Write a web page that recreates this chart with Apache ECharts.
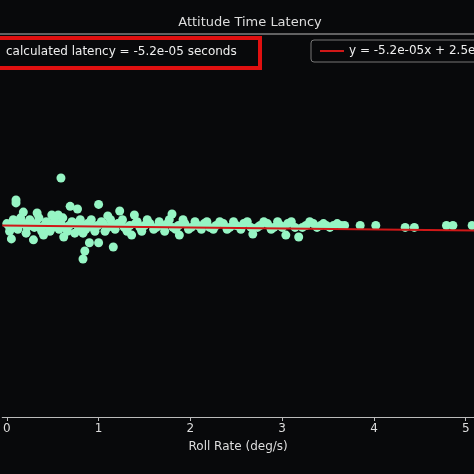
<!DOCTYPE html>
<html>
<head>
<meta charset="utf-8">
<script src="https://cdn.jsdelivr.net/npm/echarts@6/dist/echarts.min.js"></script>
<style>html,body{margin:0;padding:0;background:#08090b}#chart{width:474px;height:474px}</style>
</head>
<body>
<div id="chart"></div>
<script>
// scatter of latency residual vs roll rate, values in seconds
const outliers = [
  [0.59, 0.00248], [0.10, 0.00133], [0.10, 0.00118], [0.18, 0.0007], [0.33, 0.00065],
  [0.69, 0.001], [0.77, 0.00086], [1.0, 0.0011], [1.23, 0.00076], [1.39, 0.00055],
  [1.80, 0.0006], [0.49, 0.00055], [0.56, 0.00055], [0.85, -0.00133], [0.83, -0.00175],
  [1.16, -0.00112], [0.90, -0.0009], [1.0, -0.0009], [0.05, -0.0007], [0.29, -0.00075],
  [1.88, -0.0005], [2.68, -0.00045], [3.04, -0.0005], [3.18, -0.0006], [1.36, -0.0005],
  [0.83, -0.0004], [0.40, -0.0005], [0.62, -0.0006], [0.15, 0.0004], [1.10, 0.0005]
]
const band = [
  [0.0, 0.0001], [0.03, -0.0003], [0.07, 0.0003], [0.12, -0.0002], [0.16, 0.0002],
  [0.21, -0.0004], [0.25, 0.0003], [0.3, -0.0001], [0.35, 0.0004], [0.38, -0.0003],
  [0.43, 0.0002], [0.47, -0.0003], [0.52, 0.0003], [0.57, -0.0002], [0.61, 0.0004],
  [0.66, -0.0003], [0.71, 0.0002], [0.74, -0.0004], [0.8, 0.0003], [0.86, -0.0002],
  [0.92, 0.0003], [0.96, -0.0003], [1.03, 0.0002], [1.07, -0.0003], [1.13, 0.0003],
  [1.18, -0.0002], [1.26, 0.0003], [1.31, -0.0003], [1.42, 0.0002], [1.47, -0.0003],
  [1.53, 0.0003], [1.6, -0.0002], [1.66, 0.0002], [1.72, -0.0003], [1.77, 0.0003],
  [1.84, -0.0002], [1.92, 0.0003], [1.98, -0.0002], [2.05, 0.0002], [2.12, -0.0002],
  [2.18, 0.0002], [2.25, -0.0002], [2.32, 0.0002], [2.4, -0.0002], [2.47, 0.0002],
  [2.55, -0.0002], [2.62, 0.0002], [2.73, -0.0001], [2.8, 0.0002], [2.88, -0.0002],
  [2.95, 0.0002], [3.0, -0.0001], [3.1, 0.0002], [3.22, -0.0001], [3.3, 0.0002],
  [3.38, -0.0001], [3.45, 0.0001], [3.52, -0.0001], [3.6, 0.0001], [3.68, 0.0],
  [3.85, 0.0], [4.02, 0.0], [4.34, -0.0001], [4.44, -0.0001], [4.79, 0.0], [4.86, 0.0],
  [5.07, 0.0]
]
const core = [
  [0.02, 0.0], [0.05, 0.0001], [0.09, -0.0001], [0.13, 0.0], [0.18, 0.0001], [0.22, -0.0001],
  [0.27, 0.0], [0.32, 0.0001], [0.36, -0.0001], [0.41, 0.0], [0.45, 0.0001], [0.5, -0.0001],
  [0.54, 0.0], [0.59, 0.0001], [0.64, -0.0001], [0.68, 0.0], [0.73, 0.0001], [0.78, -0.0001],
  [0.83, 0.0], [0.88, 0.0001], [0.94, -0.0001], [0.99, 0.0], [1.05, 0.0001], [1.1, -0.0001],
  [1.15, 0.0], [1.21, 0.0001], [1.28, -0.0001], [1.34, 0.0], [1.4, 0.0001], [1.45, -0.0001],
  [1.5, 0.0], [1.56, 0.0001], [1.63, -0.0001], [1.69, 0.0], [1.75, 0.0001], [1.81, -0.0001],
  [1.87, 0.0], [1.94, 0.0001], [2.01, -0.0001], [2.08, 0.0], [2.15, 0.0001], [2.21, -0.0001],
  [2.28, 0.0], [2.36, 0.0001], [2.43, -0.0001], [2.5, 0.0], [2.58, 0.0001], [2.66, -0.0001],
  [2.76, 0.0], [2.84, 0.0001], [2.91, -0.0001], [2.98, 0.0], [3.06, 0.0001], [3.14, -0.0001],
  [3.26, 0.0], [3.34, 0.0001], [3.42, 0.0], [3.48, 0.0], [3.56, 0.0], [3.64, 0.0]
]
const slope = -5.2e-05
const fitX = [-0.05, 5.09]
const tickValues = [0, 1, 2, 3, 4, 5]

const chart = echarts.init(document.getElementById('chart'))
chart.setOption({
  backgroundColor: '#08090b',
  animation: false,
  title: {
    text: 'Attitude Time Latency', left: 245, top: 11, textAlign: 'center',
    textStyle: { color: '#dddddd', fontSize: 13, fontWeight: 'normal', fontFamily: 'DejaVu Sans' },
  },
  legend: {
    left: 311, top: 40, itemWidth: 24, itemHeight: 2, padding: [5, 8], itemGap: 8,
    borderColor: '#777', borderWidth: 1, borderRadius: 3, backgroundColor: '#08090b',
    textStyle: { color: '#eeeeee', fontSize: 12, fontFamily: 'DejaVu Sans' },
    data: ['y = -5.2e-05x + 2.5e-04'],
  },
  grid: { left: 0, right: 0, top: 34, bottom: 57 },
  xAxis: {
    type: 'value', min: -0.05, max: 5.09,
    name: 'Roll Rate (deg/s)', nameLocation: 'middle', nameGap: 24,
    nameTextStyle: { color: '#dddddd', fontSize: 12, fontFamily: 'DejaVu Sans' },
    axisLine: { show: true, onZero: false, lineStyle: { color: '#bbbbbb' } },
    axisTick: { show: true, customValues: tickValues, length: 4, lineStyle: { color: '#bbbbbb' } },
    axisLabel: { customValues: tickValues, color: '#dddddd', fontSize: 12, fontFamily: 'DejaVu Sans', margin: 6 },
    splitLine: { show: false },
  },
  yAxis: {
    type: 'value', min: -0.01, max: 0.01, show: false,
  },
  graphic: [
    { type: 'line', shape: { x1: 0, y1: 34, x2: 474, y2: 34 }, style: { stroke: '#bbbbbb', lineWidth: 1 } },
    { type: 'rect', shape: { x: -6, y: 38, width: 266, height: 30 }, style: { fill: '#08090b', stroke: '#e01010', lineWidth: 4 }, z: 100 },
    { type: 'text', x: 6, y: 46, style: { text: 'calculated latency = -5.2e-05 seconds', fill: '#eeeeee', fontSize: 12, fontFamily: 'DejaVu Sans' }, z: 101 },
  ],
  series: [
    {
      type: 'scatter', symbolSize: 9, itemStyle: { color: '#96f5c4', opacity: 1 },
      data: band.concat(core, outliers),
    },
    {
      name: 'y = -5.2e-05x + 2.5e-04', type: 'line', symbol: 'none',
      lineStyle: { color: '#d01818', width: 2 }, itemStyle: { color: '#d01818' },
      data: fitX.map(x => [x, slope * x]),
      z: 3,
    },
  ],
})
</script>
</body>
</html>
